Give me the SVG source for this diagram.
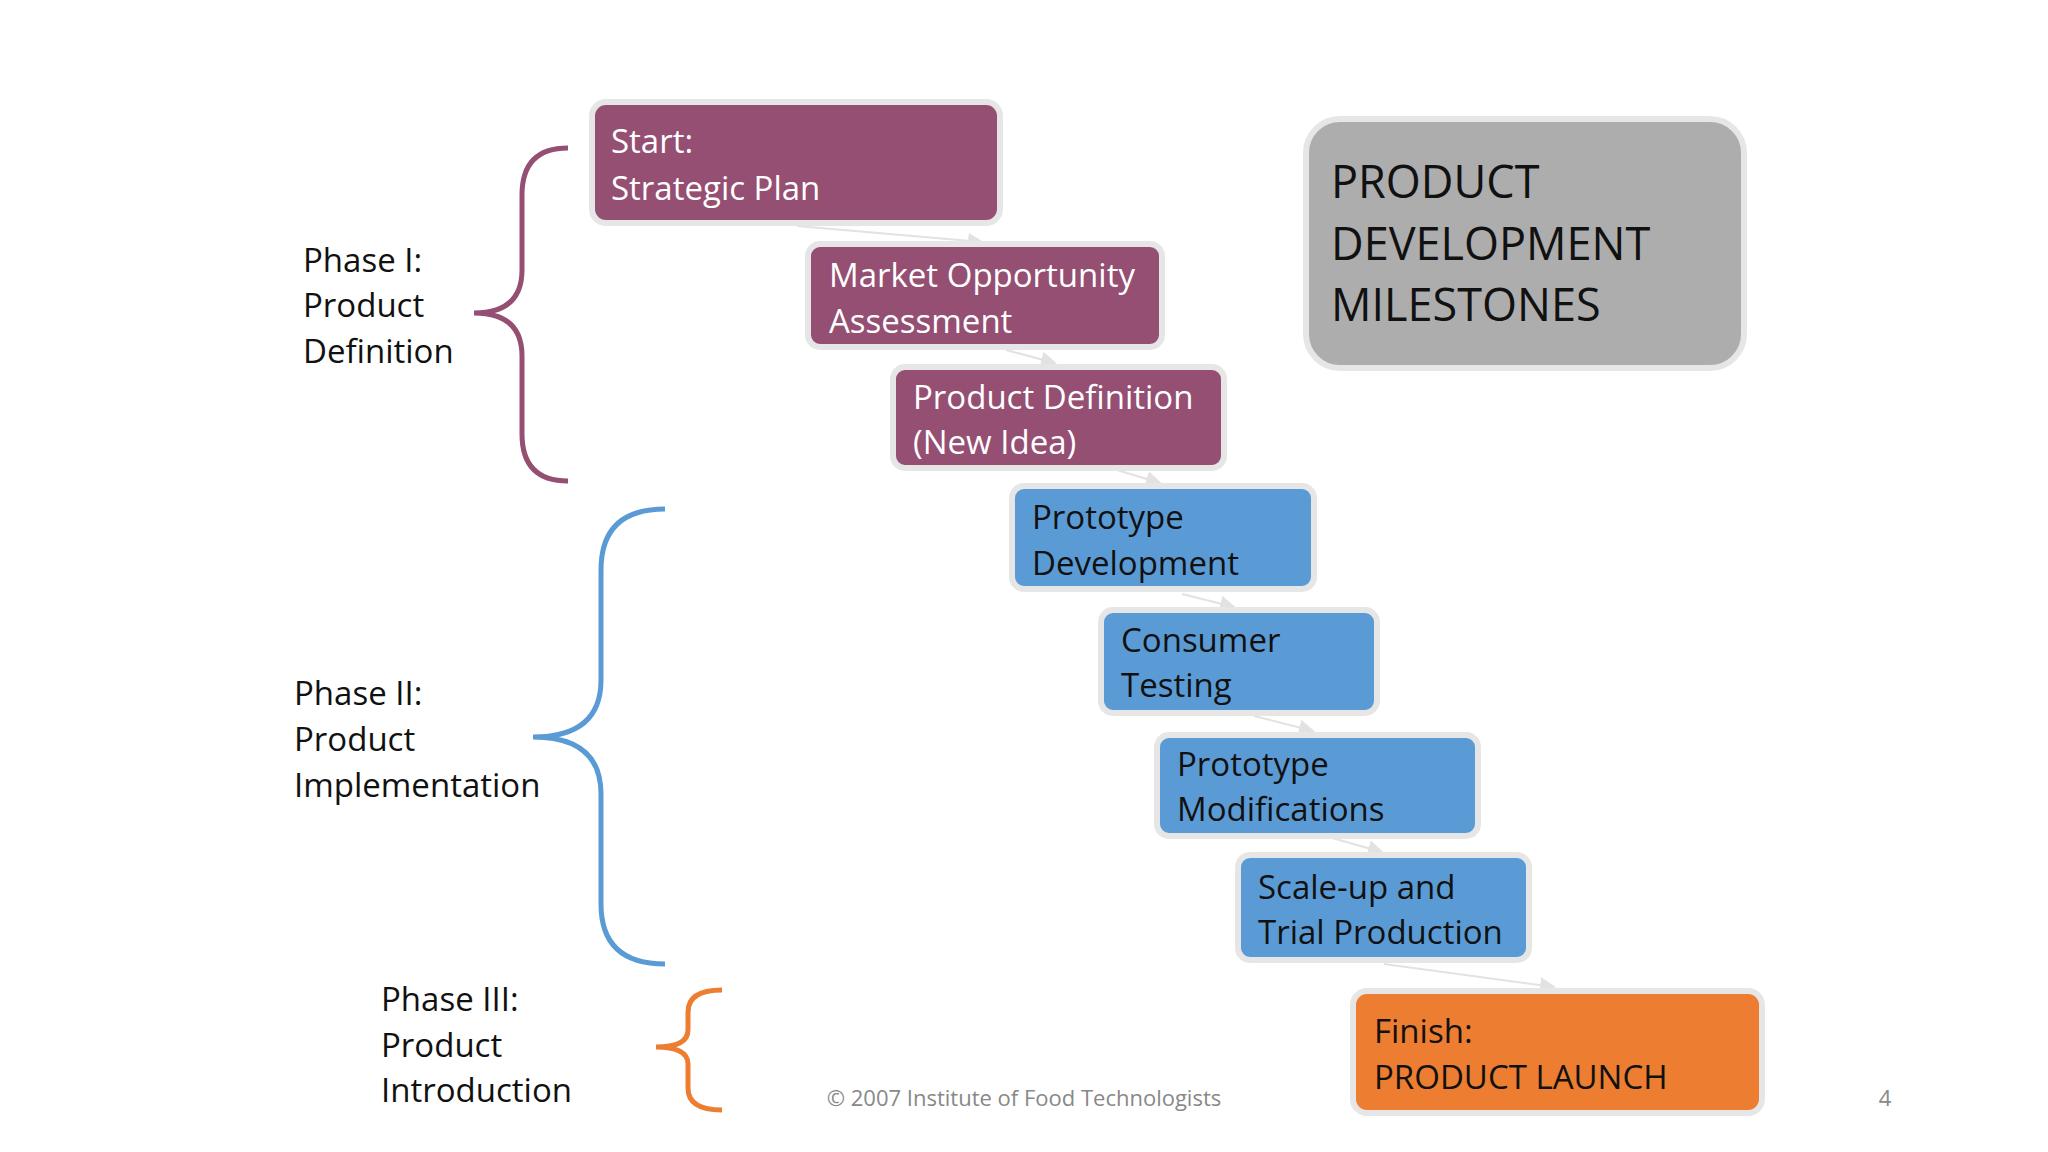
<svg xmlns="http://www.w3.org/2000/svg" width="2048" height="1152" viewBox="0 0 2048 1152">
<style>
.t{font-family:"Open Sans","Liberation Sans",sans-serif;font-size:33px;fill:#fff}
.p{font-family:"Open Sans","Liberation Sans",sans-serif;font-size:33px;fill:#111}
.g{font-family:"Open Sans","Liberation Sans",sans-serif;font-size:45px;fill:#111}
.f{font-family:"Open Sans","Liberation Sans",sans-serif;font-size:22px;fill:#888}
.b{stroke:#e6e6e6;stroke-width:6}
.c{stroke:#e2e2e2;stroke-width:2;fill:none;marker-end:url(#a)}
.br{fill:none;stroke-width:5}
</style>
<defs><marker id="a" markerWidth="8" markerHeight="8" refX="7" refY="4" orient="auto"><path d="M0,0L8,4L0,8z" fill="#e2e2e2"/></marker></defs>
<rect width="2048" height="1152" fill="#fff"/>
<g id="connectors">
<line class="c" x1="797" y1="226" x2="982" y2="242"/>
<line class="c" x1="1006" y1="350" x2="1055" y2="363"/>
<line class="c" x1="1117" y1="470" x2="1160" y2="483"/>
<line class="c" x1="1182" y1="594" x2="1234" y2="607"/>
<line class="c" x1="1254" y1="716" x2="1313" y2="731"/>
<line class="c" x1="1332" y1="838" x2="1382" y2="852"/>
<line class="c" x1="1384" y1="964" x2="1554" y2="987"/>
</g>
<g id="n1"><rect class="b" x="592" y="102" width="408" height="121" rx="14" fill="#954F72"/><text class="t" x="611" y="153">Start:</text><text class="t" x="611" y="200">Strategic Plan</text></g>
<g id="n2"><rect class="b" x="808" y="244" width="354" height="103" rx="12" fill="#954F72"/><text class="t" x="829" y="287">Market Opportunity</text><text class="t" x="829" y="333">Assessment</text></g>
<g id="n3"><rect class="b" x="893" y="367" width="331" height="101" rx="12" fill="#954F72"/><text class="t" x="913" y="409">Product Definition</text><text class="t" x="913" y="454">(New Idea)</text></g>
<g id="n4"><rect class="b" x="1012" y="486" width="302" height="103" rx="12" fill="#5B9BD5"/><text class="p" x="1032" y="529">Prototype</text><text class="p" x="1032" y="575">Development</text></g>
<g id="n5"><rect class="b" x="1101" y="610" width="276" height="103" rx="12" fill="#5B9BD5"/><text class="p" x="1121" y="652">Consumer</text><text class="p" x="1121" y="697">Testing</text></g>
<g id="n6"><rect class="b" x="1157" y="735" width="321" height="101" rx="12" fill="#5B9BD5"/><text class="p" x="1177" y="776">Prototype</text><text class="p" x="1177" y="821">Modifications</text></g>
<g id="n7"><rect class="b" x="1238" y="855" width="291" height="105" rx="12" fill="#5B9BD5"/><text class="p" x="1258" y="899">Scale-up and</text><text class="p" x="1258" y="944">Trial Production</text></g>
<g id="n8"><rect class="b" x="1353" y="991" width="409" height="122" rx="14" fill="#ED7D31"/><text class="p" x="1374" y="1043">Finish:</text><text class="p" x="1374" y="1089">PRODUCT LAUNCH</text></g>
<g id="title"><rect class="b" x="1306" y="119" width="438" height="249" rx="34" fill="#ADADAD"/><text class="g" x="1331" y="198">PRODUCT</text><text class="g" x="1331" y="260">DEVELOPMENT</text><text class="g" x="1331" y="321">MILESTONES</text></g>
<g id="phase1"><path class="br" stroke="#954F72" d="M568,148Q522,148 522,195L522,270Q522,313 474,313Q522,313 522,356L522,434Q522,481 568,481"/><text class="p" x="303" y="272">Phase I:</text><text class="p" x="303" y="317">Product</text><text class="p" x="303" y="363">Definition</text></g>
<g id="phase2"><path class="br" stroke="#5B9BD5" d="M665,509Q601,509 601,570L601,680Q601,737 533,737Q601,737 601,794L601,904Q601,964 665,964"/><text class="p" x="294" y="705">Phase II:</text><text class="p" x="294" y="751">Product</text><text class="p" x="294" y="797">Implementation</text></g>
<g id="phase3"><path class="br" stroke="#ED7D31" d="M722,990Q688,990 688,1012L688,1030Q688,1047 656,1047Q688,1047 688,1064L688,1088Q688,1110 722,1110"/><text class="p" x="381" y="1011">Phase III:</text><text class="p" x="381" y="1057">Product</text><text class="p" x="381" y="1102">Introduction</text></g>
<text class="f" x="1024" y="1106" text-anchor="middle">© 2007 Institute of Food Technologists</text>
<text class="f" x="1885" y="1106" text-anchor="middle">4</text>
</svg>
